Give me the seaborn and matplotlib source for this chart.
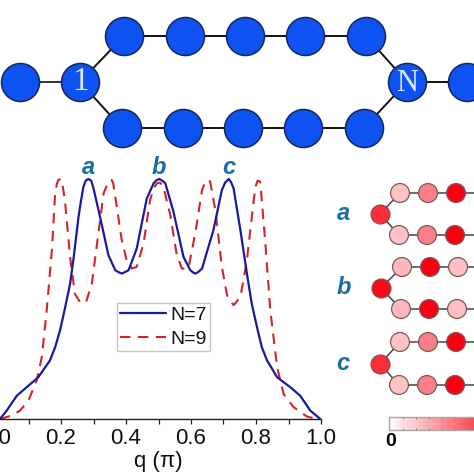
import numpy as np
import matplotlib
matplotlib.use("Agg")
import matplotlib.pyplot as plt
from matplotlib.colors import LinearSegmentedColormap
import seaborn as sns

# Curves
q_n7 = [0.012, 0.033, 0.064, 0.100, 0.130, 0.166, 0.182, 0.197, 0.212, 0.228, 0.238, 0.254, 0.261, 0.269, 0.276,
        0.284, 0.293, 0.300, 0.320, 0.346, 0.367, 0.377, 0.387, 0.397, 0.408, 0.433, 0.464, 0.485, 0.493, 0.502,
        0.511, 0.521, 0.546, 0.577, 0.598, 0.606, 0.613, 0.622, 0.634, 0.669, 0.695, 0.705, 0.716, 0.724, 0.731,
        0.752, 0.772, 0.787, 0.803, 0.818, 0.834, 0.865, 0.906, 0.936, 0.967, 0.998]
y_n7 = [0, 0.035, 0.097, 0.139, 0.174, 0.244, 0.299, 0.369, 0.460, 0.564, 0.662, 0.843, 0.905, 0.968, 0.993,
        1, 0.993, 0.961, 0.843, 0.682, 0.620, 0.612, 0.606, 0.612, 0.620, 0.710, 0.919, 0.982, 0.994, 1,
        0.994, 0.982, 0.864, 0.675, 0.620, 0.611, 0.606, 0.612, 0.627, 0.787, 0.954, 0.985, 1, 0.985, 0.961,
        0.787, 0.606, 0.480, 0.383, 0.299, 0.244, 0.174, 0.132, 0.097, 0.035, 0]
q_n9 = [0.012, 0.048, 0.074, 0.100, 0.125, 0.141, 0.156, 0.172, 0.182, 0.187, 0.192, 0.200, 0.206, 0.213, 0.228, 0.243,
        0.259, 0.277, 0.295, 0.315, 0.331, 0.346, 0.356, 0.361, 0.367, 0.387, 0.402, 0.418, 0.433, 0.454, 0.474,
        0.485, 0.495, 0.505, 0.515, 0.536, 0.556, 0.572, 0.592, 0.613, 0.634, 0.644, 0.652, 0.659, 0.675, 0.695, 0.711, 0.731,
        0.752, 0.772, 0.793, 0.799, 0.805, 0.813, 0.828, 0.844, 0.865, 0.885, 0.916, 0.957, 0.988]
y_n9 = [0, 0.014, 0.035, 0.077, 0.160, 0.258, 0.453, 0.703, 0.940, 0.978, 0.996, 1, 0.965, 0.898, 0.673, 0.521,
        0.486, 0.486, 0.565, 0.773, 0.940, 0.989, 0.996, 0.980, 0.926, 0.745, 0.661, 0.627, 0.634, 0.731, 0.912,
        0.960, 0.982, 0.985, 0.968, 0.852, 0.685, 0.627, 0.627, 0.773, 0.954, 0.989, 0.996, 0.989, 0.870, 0.634, 0.515, 0.474,
        0.508, 0.661, 0.912, 0.970, 0.993, 0.989, 0.745, 0.453, 0.216, 0.104, 0.049, 0.010, 0]
tick_vals = [0.0, 0.2, 0.4, 0.6, 0.8, 1.0]
peak_labels = ["a", "b", "c"]

# Colour level of the small chain nodes: root, then first three along each arm
levels_a = [0.82, 0.24, 0.50, 1.0]
levels_b = [0.96, 0.28, 1.0, 0.25]
levels_c = [0.82, 0.24, 0.50, 1.0]

W = 474
sns.set_theme(style="white")
plt.rcParams["font.family"] = ["Liberation Sans", "DejaVu Sans"]
reds = LinearSegmentedColormap.from_list("reds", ["#ffffff", "#f80010"])

fig = plt.figure(figsize=(W / 100, W / 100), dpi=100, facecolor="white")

# Full figure axes in pixels for the two diagrams
bg = fig.add_axes([0, 0, 1, 1], zorder=0)
bg.set_xlim(0, W)
bg.set_ylim(W, 0)
bg.axis("off")


def big_node(x, y):
    bg.scatter(x, y, s=750, color="#0f52f2", edgecolor="#12275c", linewidth=1.1, zorder=3)


# Big chain on top
top_x = [124, 185, 245, 305, 366]
bot_x = [122, 183, 243, 303, 364]
bg.plot(top_x, [36] * 5, color="#111111", lw=1.4, zorder=1)
bg.plot(bot_x, [128] * 5, color="#111111", lw=1.4, zorder=1)
bg.plot([20, 80], [82, 82], color="#333333", lw=1.4, zorder=1)
bg.plot([407, 470], [82, 82], color="#111111", lw=1.4, zorder=1)
bg.plot([80, 124], [82, 36], color="#111111", lw=1.4, zorder=1)
bg.plot([80, 122], [82, 128], color="#111111", lw=1.4, zorder=1)
bg.plot([366, 407], [36, 82], color="#111111", lw=1.4, zorder=1)
bg.plot([364, 407], [128, 82], color="#111111", lw=1.4, zorder=1)
for x in top_x:
    big_node(x, 36)
for x in bot_x:
    big_node(x, 128)
for x in [20, 80, 407, 467]:
    big_node(x, 82)
bg.text(80, 82, "1", color="#dce8ff", family="Liberation Serif", fontsize=24, ha="center", va="center", zorder=4)
bg.text(407, 83, "N", color="#dce8ff", family="Liberation Serif", fontsize=22, ha="center", va="center", zorder=4)

# Small chains on the right
chains = [
    (levels_a, 380, 214, 193, 235, 400, 399, "a"),
    (levels_b, 381, 288, 267, 309, 402, 401, "b"),
    (levels_c, 380, 364, 342, 385, 400, 399, "c"),
]
for levels, rx, ry, ty, by, tx0, bx0, name in chains:
    for arm_y, x0 in [(ty, tx0), (by, bx0)]:
        xs = [x0 + 28 * i for i in range(3)]
        bg.plot([rx, x0], [ry, arm_y], color="#444444", lw=1.1, zorder=1)
        bg.plot(xs + [W + 5], [arm_y] * 4, color="#444444", lw=1.1, zorder=1)
        bg.scatter(xs, [arm_y] * 3, c=levels[1:], cmap=reds, vmin=0, vmax=1, s=185,
                   edgecolor="#7d5a5a", linewidth=0.9, zorder=3)
    bg.scatter([rx], [ry], c=levels[:1], cmap=reds, vmin=0, vmax=1, s=185,
               edgecolor="#8a4a4a", linewidth=0.9, zorder=3)
    bg.text(rx - 37, ry, name, color="#1a6ea8", fontsize=17, fontweight="bold", fontstyle="italic",
            ha="center", va="center")

# Colour bar, runs off the right edge
grad = np.linspace(0, 1, 256).reshape(1, -1)
bg.imshow(grad, cmap=reds, vmin=0, vmax=1, extent=(389.5, 510, 430, 417), aspect="auto", zorder=2)
bg.plot([510, 389.5, 389.5, 510], [417, 417, 430, 430], color="#a8a8a8", lw=1, zorder=3)
for x in range(403, W, 13):
    bg.plot([x, x], [417, 419], color="#888888", lw=0.6, zorder=3)
    bg.plot([x, x], [428, 430], color="#888888", lw=0.6, zorder=3)
bg.set_xlim(0, W)
bg.set_ylim(W, 0)
bg.text(391, 441, "0", color="black", fontsize=14, fontweight="bold", ha="center", va="center")

# Main plot
left, right, top, base = -4, 321, 160, 419
ax = fig.add_axes([left / W, 1 - base / W, (right - left) / W, (base - top) / W], zorder=1)
ax.patch.set_alpha(0)
sns.lineplot(x=q_n9, y=y_n9, color="#d2232a", lw=1.5, ls=(0, (5, 3.6)), sort=False, errorbar=None, label="N=9", ax=ax)
sns.lineplot(x=q_n7, y=y_n7, color="#1a1a9c", lw=1.6, sort=False, errorbar=None, label="N=7", ax=ax)
ax.set_xlim(0, 1)
ax.set_ylim(0, (base - top) / 240)
ax.set_xticks(tick_vals)
ax.set_xticklabels([f"{t:.1f}" for t in tick_vals], fontsize=16, color="#111111")
ax.set_xticks([0.1, 0.3, 0.5, 0.7, 0.9], minor=True)
ax.tick_params(axis="x", which="both", bottom=True, direction="out", length=3.5, width=0.9, color="#222222", pad=3)
ax.set_yticks([])
for side in ["top", "left", "right"]:
    ax.spines[side].set_visible(False)
ax.spines["bottom"].set_color("#222222")
ax.spines["bottom"].set_linewidth(1.0)
ax.set_xlabel("q (\u03c0)", fontsize=16, color="#111111", labelpad=1.5)
for name, q in zip(peak_labels, [0.284, 0.502, 0.716]):
    ax.text(q, 1.05, name, color="#1a6ea8", fontsize=17, fontweight="bold", fontstyle="italic",
            ha="center", va="center")

handles, labels = ax.get_legend_handles_labels()
leg = ax.legend(handles[::-1], labels[::-1], loc="upper left", bbox_to_anchor=(117 / W, 1 - 303 / W),
                bbox_transform=fig.transFigure, fontsize=14, frameon=True, fancybox=False, framealpha=1,
                edgecolor="#c4c4c4", borderaxespad=0, handlelength=2.35, handletextpad=0.25,
                borderpad=0.15, labelspacing=0.35, labelcolor="#111111")
leg.get_frame().set_linewidth(1.0)

fig.savefig("out.png", dpi=100)
